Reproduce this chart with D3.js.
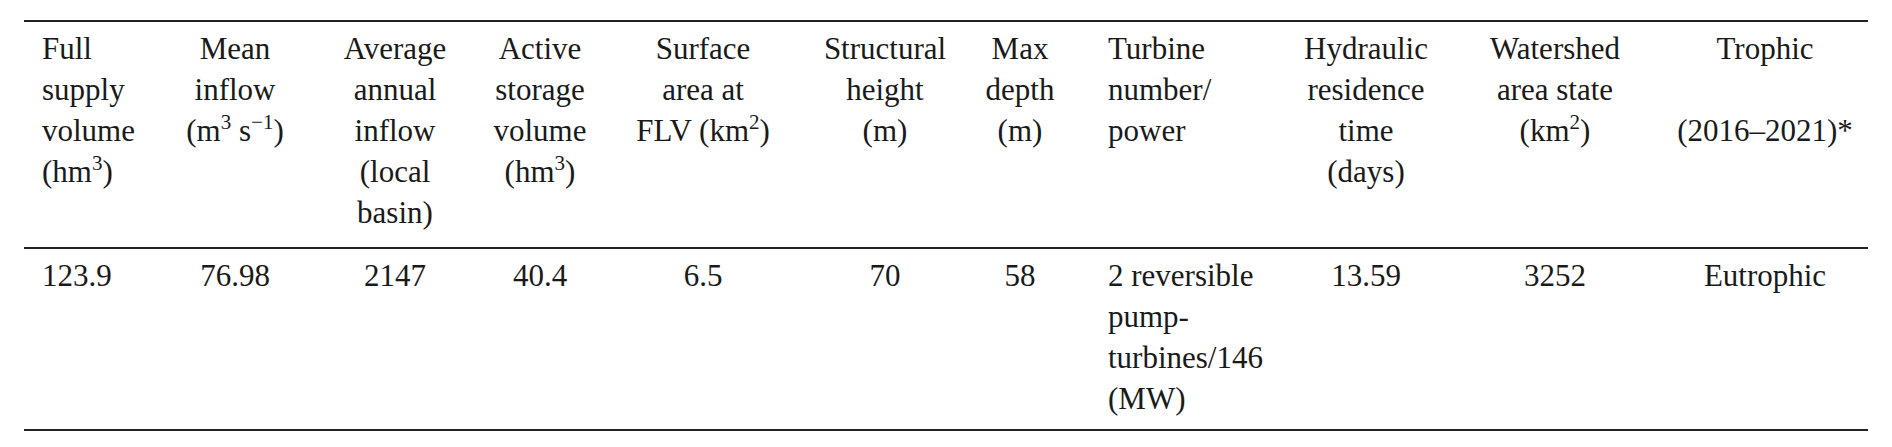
<!DOCTYPE html>
<html>
<head>
<meta charset="UTF-8" />
<style>
  html, body { margin: 0; padding: 0; background: #fff; }
  text { font-family: "Liberation Serif", serif; font-size: 31px; fill: #1a1a1a; }
</style>
</head>
<body>
<svg id="viz" width="1892" height="447"></svg>
<script src="https://d3js.org/d3.v7.min.js"></script>
<script>
  // header lines per column; "^" marks superscript segment
  const headers = [
    ["Full", "supply", "volume", "(hm^3^)"],
    ["Mean", "inflow", "(m^3^ s^−1^)"],
    ["Average", "annual", "inflow", "(local", "basin)"],
    ["Active", "storage", "volume", "(hm^3^)"],
    ["Surface", "area at", "FLV (km^2^)"],
    ["Structural", "height", "(m)"],
    ["Max", "depth", "(m)"],
    ["Turbine", "number/", "power"],
    ["Hydraulic", "residence", "time", "(days)"],
    ["Watershed", "area state", "(km^2^)"],
    ["Trophic", "", "(2016–2021)*"]
  ];
  const values = [
    ["123.9"], ["76.98"], ["2147"], ["40.4"], ["6.5"], ["70"], ["58"],
    ["2 reversible", "pump-", "turbines/146", "(MW)"],
    ["13.59"], ["3252"], ["Eutrophic"]
  ];
  const colX = [42, 235, 395, 540, 703, 885, 1020, 1108, 1366, 1555, 1765];
  const align = ["start", "middle", "middle", "middle", "middle", "middle", "middle", "start", "middle", "middle", "middle"];

  const svg = d3.select("#viz");
  const lineH = 41;

  [21, 248, 430].forEach(y => {
    svg.append("line").attr("x1", 24).attr("x2", 1868).attr("y1", y).attr("y2", y)
      .attr("stroke", "#222").attr("stroke-width", 2);
  });

  function addLine(x, y, anchor, str) {
    const t = svg.append("text").attr("x", x).attr("y", y).attr("text-anchor", anchor);
    str.split("^").forEach((seg, i) => {
      if (!seg) return;
      const sp = t.append("tspan").text(seg);
      if (i % 2 === 1) sp.attr("baseline-shift", "super").style("font-size", "21px");
    });
  }

  headers.forEach((lines, c) => {
    lines.forEach((s, i) => addLine(colX[c], 59 + i * lineH, align[c], s));
  });
  values.forEach((lines, c) => {
    lines.forEach((s, i) => addLine(colX[c], 286 + i * lineH, align[c], s));
  });
</script>
</body>
</html>
